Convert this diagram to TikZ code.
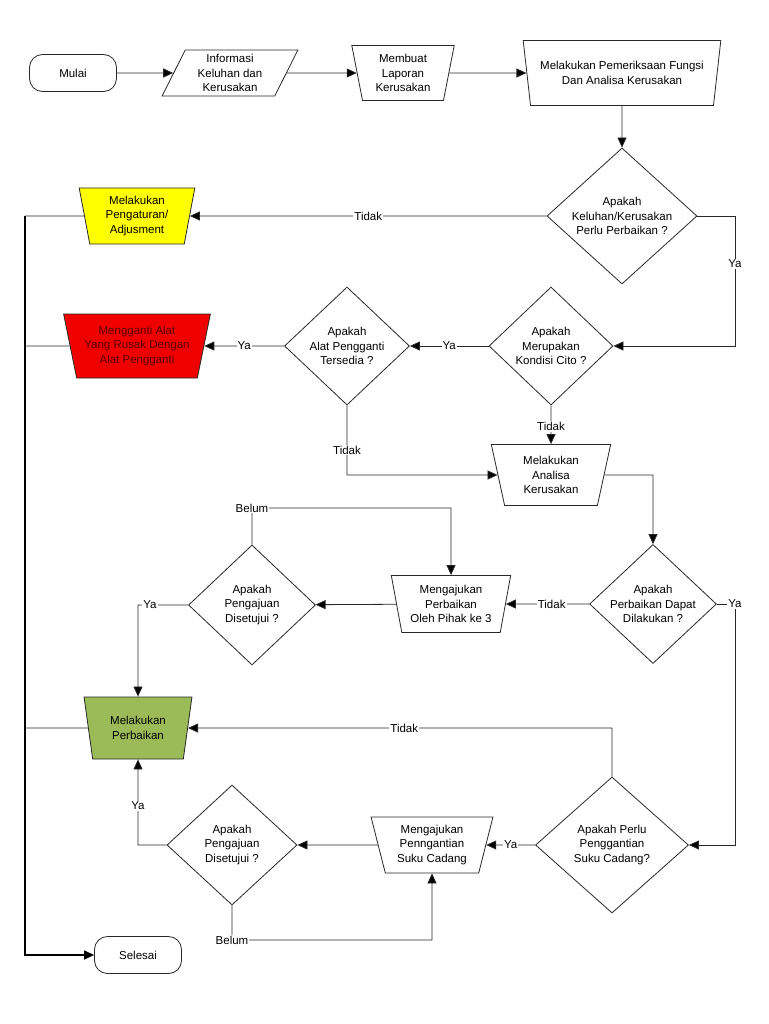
\documentclass[tikz,border=0pt]{standalone}
\usepackage{fontspec}
\setmainfont{Liberation Sans}
\usetikzlibrary{shapes.geometric,arrows.meta,calc}
\newcommand\myfs{\fontsize{11.5}{14.5}\selectfont}
\definecolor{lncol}{RGB}{40,40,40}
\definecolor{yel}{RGB}{255,255,0}
\definecolor{redf}{RGB}{240,0,0}
\definecolor{grnf}{RGB}{155,187,89}
\definecolor{redtxt}{RGB}{90,0,0}
\begin{document}
\begin{tikzpicture}[x=1pt,y=-1pt,
  base/.style={draw=lncol, line width=0.8pt, font=\myfs, align=center, inner sep=0pt, text=black},
  term/.style={base, rounded corners=13pt, minimum width=87pt, minimum height=37pt},
  para/.style={base, trapezium, trapezium stretches=true, trapezium left angle=66, trapezium right angle=114, minimum width=136pt, minimum height=46pt},
  trapbox/.style={base, trapezium, trapezium stretches=true, shape border rotate=180},
  dia/.style={base, diamond, aspect=1.1},
  ln/.style={draw=lncol, line width=0.8pt},
  tip/.tip={Triangle[length=10pt,width=9pt,fill=black]},
  arr/.style={ln, -tip},
  lbl/.style={fill=white, inner sep=1pt, font=\myfs, text=black}
]
\useasboundingbox (0,0) rectangle (768,1024);
\fill[white] (0,0) rectangle (768,1024);

% top row
\node[term] (mulai) at (73,73) {Mulai};
\node[para] (info) at (230,73) {Informasi\\Keluhan dan\\Kerusakan};
\node[trapbox, minimum width=103pt, minimum height=55pt, trapezium angle=79] (lap) at (403,73) {Membuat\\Laporan\\Kerusakan};
\node[trapbox, minimum width=198pt, minimum height=65pt, trapezium angle=74] (pem) at (622,73) {Melakukan Pemeriksaan Fungsi\\Dan Analisa Kerusakan};

% decisions
\node[dia, minimum width=150pt, minimum height=136pt] (d1) at (622,216) {Apakah\\Keluhan/Kerusakan\\Perlu Perbaikan ?};
\node[dia, minimum width=124pt, minimum height=118pt] (d2) at (551,346) {Apakah\\Merupakan\\Kondisi Cito ?};
\node[dia, minimum width=125pt, minimum height=118pt] (d3) at (347,346) {Apakah\\Alat Pengganti\\Tersedia ?};
\node[dia, minimum width=122pt, minimum height=119pt] (d4) at (653,604) {Apakah\\Perbaikan Dapat\\Dilakukan ?};
\node[dia, minimum width=127pt, minimum height=120pt] (d5) at (252,605) {Apakah\\Pengajuan\\Disetujui ?};
\node[dia, minimum width=153pt, minimum height=136pt] (d6) at (612,845) {Apakah Perlu\\Penggantian\\Suku Cadang?};
\node[dia, minimum width=130pt, minimum height=120pt] (d7) at (232,845) {Apakah\\Pengajuan\\Disetujui ?};

% process boxes
\node[trapbox, fill=yel, minimum width=116pt, minimum height=56pt, trapezium angle=80] (yelb) at (137,216) {Melakukan\\Pengaturan/\\Adjusment};
\node[trapbox, fill=redf, text=redtxt, minimum width=147pt, minimum height=64pt, trapezium angle=74] (redb) at (137,346) {Mengganti Alat\\Yang Rusak Dengan\\Alat Pengganti};
\node[trapbox, minimum width=120pt, minimum height=61pt, trapezium angle=78] (ana) at (551,475) {Melakukan\\Analisa\\Kerusakan};
\node[trapbox, minimum width=120pt, minimum height=57pt, trapezium angle=77] (m3) at (451,604) {Mengajukan\\Perbaikan\\Oleh Pihak ke 3};
\node[trapbox, fill=grnf, minimum width=108pt, minimum height=62pt, trapezium angle=77] (grn) at (138,728) {Melakukan\\Perbaikan};
\node[trapbox, minimum width=123pt, minimum height=56pt, trapezium angle=75] (m2) at (432,845) {Mengajukan\\Penngantian\\Suku Cadang};
\node[term] (sel) at (138,955) {Selesai};

% helper coordinates
\coordinate (lt) at (25,216);
\coordinate (lr) at (25,346);
\coordinate (lg) at (25,728);
\coordinate (lb) at (25,955);
\coordinate (r1) at (735,216);
\coordinate (r2) at (735,346);
\coordinate (r3) at (653,475);
\coordinate (r4) at (735,604);
\coordinate (r5) at (735,845);
\coordinate (b1) at (252,508);
\coordinate (b2) at (451,508);
\coordinate (y1) at (138,605);
\coordinate (t1) at (612,728);
\coordinate (y2) at (138,845);
\coordinate (b3) at (232,940);
\coordinate (b4) at (432,940);
\coordinate (t2) at (347,475);

% connectors
\draw[arr] (mulai) -- (info);
\draw[arr] (info) -- (lap);
\draw[arr] (lap) -- (pem);
\draw[arr] (pem.south) -- (d1.north);
\draw[arr] (d1) -- node[lbl, pos=0.5]{Tidak} (yelb);
\draw[arr] (d1.east) -- (r1) -- node[lbl, pos=0.37]{Ya} (r2) -- (d2.east);
\draw[arr] (d2) -- node[lbl]{Ya} (d3);
\draw[arr] (d3) -- node[lbl]{Ya} (redb);
\draw[arr] (d2.south) -- node[lbl, pos=0.55]{Tidak} (ana.north);
\draw[arr] (d3.south) -- node[lbl, pos=0.64]{Tidak} (t2) -- (ana);
\draw[arr] (ana) -- (r3) -- (d4.north);
\draw[arr] (d4) -- node[lbl, pos=0.45]{Tidak} (m3);
\draw[arr] (d4.east) -- (r4) -- (r5) -- (d6.east);
\node[lbl] at (r4) {Ya};
\draw[arr] (m3) -- (d5);
\draw[arr] (d5.north) -- (b1) -- (b2) -- (m3.north);
\node[lbl] at (b1) {Belum};
\draw[arr] (d5.west) -- node[lbl, pos=0.76]{Ya} (y1) -- (grn.north);
\draw[arr] (d6.north) -- (t1) -- node[lbl, pos=0.49]{Tidak} (grn);
\draw[arr] (d6) -- node[lbl]{Ya} (m2);
\draw[arr] (m2) -- (d7);
\draw[arr] (d7.west) -- (y2) -- node[lbl, pos=0.46]{Ya} (grn.south);
\draw[arr] (d7.south) -- (b3) -- (b4) -- (m2.south);
\node[lbl] at (b3) {Belum};
\draw[ln] (yelb) -- (lt);
\draw[ln] (redb) -- (lr);
\draw[ln] (grn) -- (lg);
\draw[draw=black, line width=1.4pt, -tip] (lt) -- (lb) -- (sel);
\end{tikzpicture}
\end{document}
